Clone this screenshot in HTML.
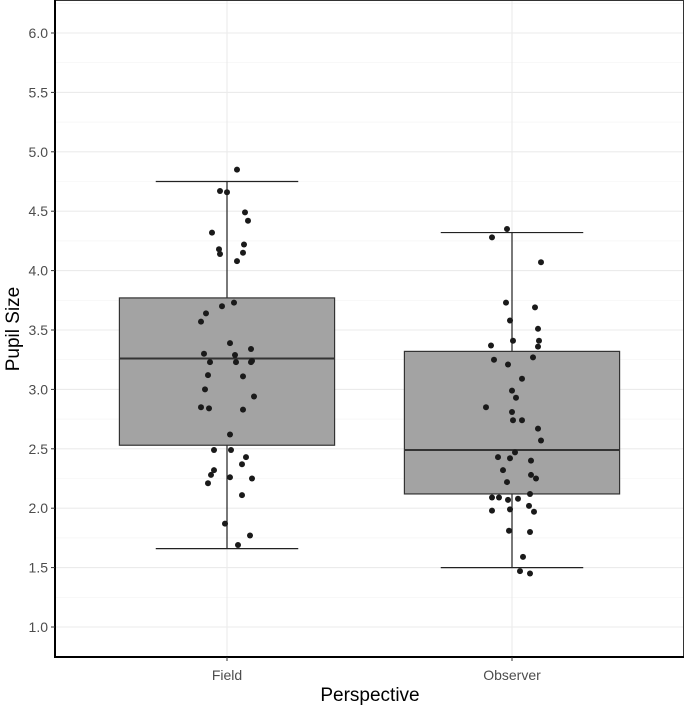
<!DOCTYPE html>
<html><head><meta charset="utf-8"><style>
body{margin:0;background:#fff;}
svg{display:block;font-family:"Liberation Sans",sans-serif;}
</style></head><body>
<svg id="chart" width="685" height="710"></svg>
<script>
const categories=["Field","Observer"];
const boxStats=[{lo:1.66,q1:2.53,med:3.26,q3:3.77,hi:4.75},{lo:1.50,q1:2.12,med:2.49,q3:3.32,hi:4.32}];
const fieldValues=[4.85,4.67,4.66,4.49,4.42,4.32,4.22,4.18,4.14,4.15,4.08,3.73,3.70,3.64,3.57,3.39,3.30,3.29,3.34,3.23,3.23,3.23,3.24,3.12,3.11,3.00,2.94,2.85,2.84,2.83,2.62,2.49,2.49,2.43,2.37,2.32,2.28,2.26,2.25,2.21,2.11,1.87,1.77,1.69];
const fieldJitter=[10,-7,0,18,21,-15,17,-8,-7,16,10,7,-5,-21,-26,3,-23,8,24,-17,9,24,25,-19,16,-22,27,-26,-18,16,3,-13,4,19,15,-13,-16,3,25,-19,15,-2,23,11].map(v=>v/285);
const observerValues=[4.35,4.28,4.07,3.73,3.69,3.58,3.51,3.41,3.41,3.37,3.36,3.27,3.25,3.21,3.09,2.99,2.93,2.85,2.81,2.74,2.74,2.67,2.57,2.47,2.43,2.42,2.40,2.32,2.28,2.25,2.22,2.09,2.09,2.07,2.08,2.12,2.02,1.98,1.99,1.97,1.81,1.80,1.59,1.47,1.45];
const observerJitter=[-5,-20,29,-6,23,-2,26,1,27,-21,26,21,-18,-4,10,0,4,-26,0,1,10,26,29,3,-14,-2,19,-9,19,24,-5,-13,-20,-4,6,18,17,-20,-2,22,-3,18,11,8,18].map(v=>v/285);
const yTicks=[1.0,1.5,2.0,2.5,3.0,3.5,4.0,4.5,5.0,5.5,6.0];

const L=55,R=684,T=0,B=657;
const y=v=>33+(6-v)*118.8;
const x=c=>227+c*285;
const S="http://www.w3.org/2000/svg",svg=document.getElementById('chart');
function mk(t,a,p){const e=document.createElementNS(S,t);for(const k in a)e.setAttribute(k,a[k]);(p||svg).appendChild(e);return e;}
const grid=mk('g',{});


for(let v=0.75;v<=6.3;v+=0.25){const major=Math.abs(v*2-Math.round(v*2))<1e-6;mk('line',{x1:L,x2:R,y1:y(v),y2:y(v),stroke:major?'#ebebeb':'#f3f3f3','stroke-width':major?1.1:0.6},grid);}
categories.forEach((c,i)=>mk('line',{x1:x(i),x2:x(i),y1:T,y2:B,stroke:'#ebebeb','stroke-width':1.1},grid));
boxStats.forEach((b,i)=>{
 const g=mk('g',{});
 
 
 const cx=x(i),hw=0.3775*285,cw=0.25*285;
 mk('line',{x1:cx,x2:cx,y1:y(b.hi),y2:y(b.lo),stroke:'#222','stroke-width':1.2},g);
 mk('line',{x1:cx-cw,x2:cx+cw,y1:y(b.hi),y2:y(b.hi),stroke:'#222','stroke-width':1.2},g);
 mk('line',{x1:cx-cw,x2:cx+cw,y1:y(b.lo),y2:y(b.lo),stroke:'#222','stroke-width':1.2},g);
 mk('rect',{x:cx-hw,y:y(b.q3),width:2*hw,height:y(b.q1)-y(b.q3),fill:'#a3a3a3',stroke:'#333','stroke-width':1.2},g);
 mk('line',{x1:cx-hw,x2:cx+hw,y1:y(b.med),y2:y(b.med),stroke:'#333','stroke-width':2},g);
});
[[fieldValues,fieldJitter],[observerValues,observerJitter]].forEach(([vals,jit],i)=>{
 const g=mk('g',{});
 
 
 vals.forEach((v,k)=>{const c=mk('circle',{cx:x(i+jit[k]),cy:y(v),r:3,fill:'#1a1a1a'},g);
  
  });
});
mk('rect',{x:L,y:T+0.5,width:R-L-0.5,height:B-T-0.5,fill:'none',stroke:'#333','stroke-width':1});
const ax=mk('path',{d:`M${L},${T} V${B} H${R}`,fill:'none',stroke:'#000','stroke-width':2});


yTicks.forEach(v=>{
 mk('line',{x1:L-4,x2:L,y1:y(v),y2:y(v),stroke:'#333'});
 const t=mk('text',{x:L-7,y:y(v)+5,'text-anchor':'end','font-size':14,fill:'#4d4d4d'});t.textContent=v.toFixed(1);
 
 
});
categories.forEach((c,i)=>{
 mk('line',{x1:x(i),x2:x(i),y1:B,y2:B+4,stroke:'#333'});
 const t=mk('text',{x:x(i),y:680,'text-anchor':'middle','font-size':14,fill:'#4d4d4d'});t.textContent=c;
 
 
});
const xt=mk('text',{x:370,y:701,'text-anchor':'middle','font-size':19,fill:'#000'});xt.textContent='Perspective';


const yt=mk('text',{x:0,y:0,transform:'translate(19,329) rotate(-90)','text-anchor':'middle','font-size':19,fill:'#000'});yt.textContent='Pupil Size';


</script>
</body></html>
